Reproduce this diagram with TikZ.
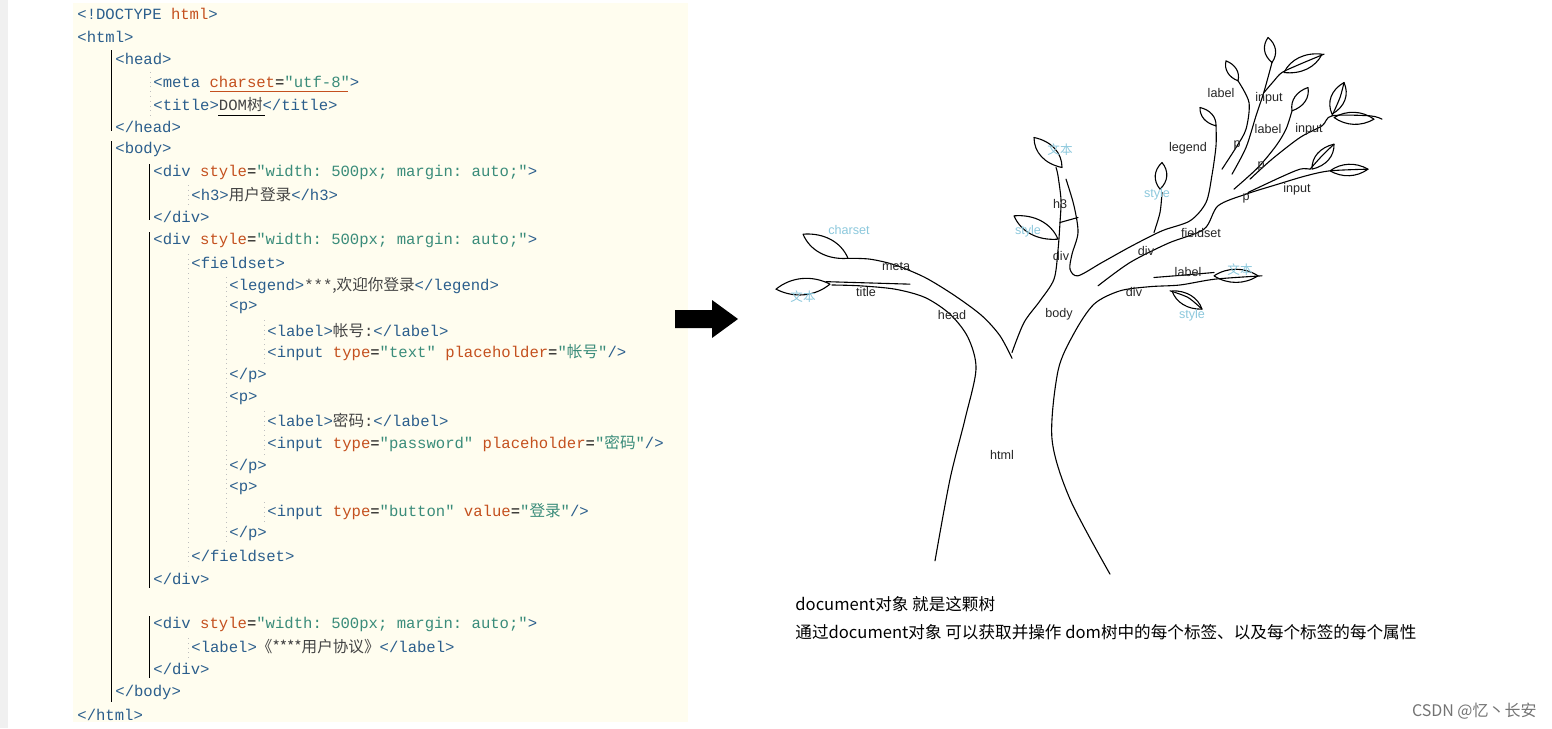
\documentclass[tikz,border=0pt]{standalone}
\usepackage{fontspec}
\setmonofont{Liberation Mono}
\setsansfont{Liberation Sans}
\newfontfamily\cjk{Noto Sans CJK SC}
\definecolor{tagc}{HTML}{2B5E8C}
\definecolor{attc}{HTML}{C4501E}
\definecolor{valc}{HTML}{3A8C7A}
\definecolor{txtc}{HTML}{444444}
\definecolor{bgc}{HTML}{FFFDEF}
\definecolor{lblue}{HTML}{8CC8DC}
\newcommand\tg[1]{\textcolor{tagc}{#1}}
\newcommand\at[1]{\textcolor{attc}{#1}}
\newcommand\vl[1]{\textcolor{valc}{#1}}
\newcommand\tx[1]{\textcolor{txtc}{#1}}
\newcommand\cj[1]{{\cjk #1}}
\newcommand\divline{\tg{<div} \at{style}=\vl{"width: 500px; margin: auto;"}\tg{>}}
\newcommand\leaf[4]{\draw[tree] (#1,#2) to[bend left=38] (#3,#4) to[bend left=38] (#1,#2);}
\begin{document}
\begin{tikzpicture}[x=0.5pt,y=-0.5pt,
 cd/.style={anchor=west,inner sep=0pt,font=\ttfamily\fontsize{7.8}{9}\selectfont},
 tl/.style={inner sep=0pt,font=\sffamily\fontsize{6.3}{7}\selectfont,text=black!85},
 tb/.style={tl,text=lblue},
 tree/.style={line width=0.55pt,line cap=round,line join=round},
 guide/.style={line width=0.5pt},
 dguide/.style={line width=0.4pt,black!25,dotted}]
\path[use as bounding box] (0,0) rectangle (1552,728);
\fill[black!6] (0,0) rectangle (8,728);
\fill[bgc] (73,3) rectangle (688,722);
% guides
\draw[guide] (111,50)--(111,131);
\draw[guide] (111,141)--(111,702);
\draw[guide] (149,164)--(149,220);
\draw[guide] (149,232)--(149,588);
\draw[guide] (149,616)--(149,678);
\draw[dguide] (150,72)--(150,118);
\draw[dguide] (188,185)--(188,207);
\draw[dguide] (188,254)--(188,566);
\draw[dguide] (226,277)--(226,545);
\draw[dguide] (264,320)--(264,367);
\draw[dguide] (264,411)--(264,458);
\draw[dguide] (264,502)--(264,524);
\draw[dguide] (188,638)--(188,660);
% code
\node[cd] (c1) at (77,14) {\tg{<!DOCTYPE} \at{html}\tg{>}};
\node[cd] (c2) at (77,36.6) {\tg{<html>}};
\node[cd] (c3) at (115,59.2) {\tg{<head>}};
\node[cd] (c4) at (153,81.8) {\tg{<meta} \at{charset}=\vl{"utf-8"}\tg{>}};
\node[cd] (c5) at (153,104.4) {\tg{<title>}\tx{DOM\cj{树}}\tg{</title>}};
\node[cd] (c6) at (115,127) {\tg{</head>}};
\node[cd] (c7) at (115,149.6) {\tg{<body>}};
\node[cd] (c8) at (153,172.2) {\divline};
\node[cd] (c9) at (191,194.8) {\tg{<h3>}\tx{\cj{用户登录}}\tg{</h3>}};
\node[cd] (c10) at (153,217.4) {\tg{</div>}};
\node[cd] (c11) at (153,240) {\divline};
\node[cd] (c12) at (191,262.6) {\tg{<fieldset>}};
\node[cd] (c13) at (229,285.2) {\tg{<legend>}\tx{***\cj{,欢迎你登录}}\tg{</legend>}};
\node[cd] (c14) at (229,307.8) {\tg{<p>}};
\node[cd] (c15) at (267,330.4) {\tg{<label>}\tx{\cj{帐号}:}\tg{</label>}};
\node[cd] (c16) at (267,353) {\tg{<input} \at{type}=\vl{"text"} \at{placeholder}=\vl{"\cj{帐号}"}\tg{/>}};
\node[cd] (c17) at (229,375.6) {\tg{</p>}};
\node[cd] (c18) at (229,398.2) {\tg{<p>}};
\node[cd] (c19) at (267,420.8) {\tg{<label>}\tx{\cj{密码}:}\tg{</label>}};
\node[cd] (c20) at (267,443.4) {\tg{<input} \at{type}=\vl{"password"} \at{placeholder}=\vl{"\cj{密码}"}\tg{/>}};
\node[cd] (c21) at (229,466) {\tg{</p>}};
\node[cd] (c22) at (229,488.6) {\tg{<p>}};
\node[cd] (c23) at (267,511.2) {\tg{<input} \at{type}=\vl{"button"} \at{value}=\vl{"\cj{登录}"}\tg{/>}};
\node[cd] (c24) at (229,533.8) {\tg{</p>}};
\node[cd] (c25) at (191,556.4) {\tg{</fieldset>}};
\node[cd] (c26) at (153,579) {\tg{</div>}};
\node[cd] (c28) at (153,624.2) {\divline};
\node[cd] (c29) at (191,646.8) {\tg{<label>}\tx{\cj{《****用户协议》}}\tg{</label>}};
\node[cd] (c30) at (153,669.4) {\tg{</div>}};
\node[cd] (c31) at (115,692) {\tg{</body>}};
\node[cd] (c32) at (77,714.6) {\tg{</html>}};
\draw[attc,line width=0.5pt] (210,91.5)--(348,91.5);
\draw[black,line width=0.5pt] (218,115)--(265,115);
% arrow
\fill[black] (675,310)--(712,310)--(712,300)--(738,319)--(712,338)--(712,328)--(675,328)--cycle;
% tree strokes
\begin{scope}[yscale=0.8333,yshift=-2.5pt]
\draw[tree] plot[smooth] coordinates{(935,668)(950,570)(965,498)(976,438)(968,400)(950,372)(925,352)(895,342)(860,338)(832,337)};
\draw[tree] (826,333)--(910,336);
\draw[tree] plot[smooth] coordinates{(1012,425)(1000,398)(982,374)(955,350)(925,328)(895,313)(870,306)(848,305)};
\draw[tree] plot[smooth] coordinates{(1012,418)(1024,382)(1040,356)(1054,330)(1058,295)(1060,262)(1061,235)(1058,206)(1056,196)};
\draw[tree] plot[smooth] coordinates{(1110,684)(1070,594)(1052,522)(1058,440)(1074,395)(1094,360)(1120,344)(1150,339)(1180,337)(1215,330)(1262,326)};
\draw[tree] plot[smooth] coordinates{(1154,328)(1185,325)(1214,322)};
\draw[tree] plot[smooth] coordinates{(1066,210)(1074,242)(1078,274)(1072,300)(1070,318)(1078,326)(1102,310)(1132,290)(1162,272)(1190,260)(1206,238)(1212,205)(1216,170)(1216,146)};
\draw[tree] plot[smooth] coordinates{(1098,338)(1130,310)(1168,287)(1204,270)(1218,242)(1246,228)(1278,216)(1306,206)(1330,200)(1368,198)};
\draw[tree] (1060,262)--(1078,256);
\draw[tree] plot[smooth] coordinates{(1222,198)(1236,172)(1246,150)(1249,118)(1238,92)};
\draw[tree] plot[smooth] coordinates{(1232,204)(1246,172)(1256,134)(1264,105)(1272,70)};
\draw[tree] plot[smooth] coordinates{(1264,106)(1274,92)(1282,82)(1300,72)(1324,60)};
\draw[tree] plot[smooth] coordinates{(1234,222)(1258,196)(1276,170)(1286,150)(1292,128)};
\draw[tree] plot[smooth] coordinates{(1250,210)(1272,186)(1300,160)(1322,146)(1332,134)(1370,134)(1382,138)};
\draw[tree] plot[smooth] coordinates{(1248,226)(1280,208)(1300,198)(1310,198)};
\draw[tree] plot[smooth] coordinates{(1310,198)(1322,182)(1334,168)};
\draw[tree] plot[smooth] coordinates{(1332,134)(1340,112)(1344,94)};
\draw[tree] plot[smooth] coordinates{(1154,274)(1160,250)(1162,226)};
\draw[tree] plot[smooth] coordinates{(1170,344)(1188,352)(1202,366)};
\leaf{848}{305}{803}{276}
\leaf{830}{336}{776}{342}
\leaf{1062}{196}{1034}{160}
\leaf{1058}{282}{1014}{254}
\leaf{1160}{222}{1162}{190}
\leaf{1216}{146}{1200}{124}
\leaf{1238}{92}{1226}{68}
\leaf{1272}{70}{1268}{40}
\leaf{1284}{82}{1322}{60}
\leaf{1292}{128}{1308}{100}
\leaf{1334}{136}{1374}{138}
\leaf{1332}{132}{1344}{94}
\leaf{1312}{198}{1334}{168}
\leaf{1330}{200}{1368}{198}
\leaf{1214}{326}{1258}{326}
\leaf{1202}{366}{1172}{344}
\end{scope}
% tree labels
\node[tb] (lcharset) at (849,230) {charset};
\node[tl] (lmeta) at (896,266) {meta};
\node[tl] (ltitle) at (866,292) {title};
\node[tb] (ltx1) at (803,297) {\cjk 文本};
\node[tl] (lhead) at (952,315) {head};
\node[tl] (lh3) at (1060,204) {h3};
\node[tb] (ltx2) at (1060,150) {\cjk 文本};
\node[tb] (lst1) at (1028,231) {style};
\node[tl] (ldiv1) at (1061,256) {div};
\node[tl] (lbody) at (1059,314) {body};
\node[tb] (lst2) at (1157,194) {style};
\node[tl] (ldiv2) at (1146,251) {div};
\node[tl] (lfs) at (1201,233) {fieldset};
\node[tl] (lleg) at (1188,148) {legend};
\node[tl] (llab1) at (1221,93) {label};
\node[tl] (linp1) at (1269,98) {input};
\node[tl] (lp1) at (1237,145) {p};
\node[tl] (llab2) at (1268,129) {label};
\node[tl] (linp2) at (1309,129) {input};
\node[tl] (lp2) at (1261,166) {p};
\node[tl] (lp3) at (1246,198) {p};
\node[tl] (linp3) at (1297,189) {input};
\node[tl] (llab3) at (1188,272) {label};
\node[tb] (ltx3) at (1240,270) {\cjk 文本};
\node[tl] (ldiv3) at (1134,292) {div};
\node[tb] (lst3) at (1192,315) {style};
\node[tl] (lhtml) at (1002,455) {html};
% caption
\node[anchor=west,inner sep=0pt,font=\cjk\fontsize{8.3}{10}\selectfont] (cap1) at (795,604) {document对象 就是这颗树};
\node[anchor=west,inner sep=0pt,font=\cjk\fontsize{8.3}{10}\selectfont] (cap2) at (795,632) {通过document对象 可以获取并操作 dom树中的每个标签、以及每个标签的每个属性};
\node[anchor=east,inner sep=0pt,text=black!55,font=\cjk\fontsize{8}{10}\selectfont] (wm) at (1537,711) {CSDN @忆丶长安};
\end{tikzpicture}
\end{document}
